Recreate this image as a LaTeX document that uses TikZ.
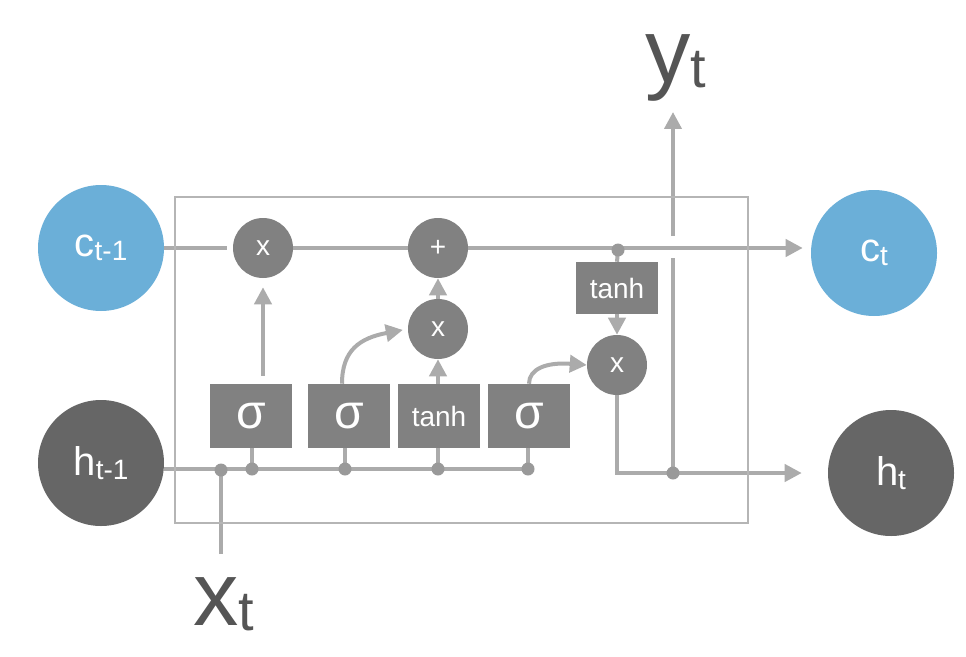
\documentclass[tikz,border=0pt]{standalone}
\usepackage{fontspec}
\setmainfont{Liberation Sans}
\usetikzlibrary{arrows.meta,backgrounds}

\newlength{\du}
\setlength{\du}{0.75pt}

\definecolor{statebluecolor}{rgb}{0.419608, 0.686275, 0.847059}
\definecolor{stategraycolor}{rgb}{0.400000, 0.400000, 0.400000}
\definecolor{gatecolor}{rgb}{0.505882, 0.505882, 0.505882}
\definecolor{wirecolor}{rgb}{0.670588, 0.670588, 0.670588}
\definecolor{jointcolor}{rgb}{0.600000, 0.600000, 0.600000}
\definecolor{cellcolor}{rgb}{0.709804, 0.709804, 0.709804}
\definecolor{labelcolor}{rgb}{0.333333, 0.333333, 0.333333}

\tikzset{
  wire/.style={draw=wirecolor, line width=4\du},
  wirearrow/.style={wire, -{Triangle[length=12.75pt,width=12.75pt]}},
  statecircle/.style={circle, minimum size=126\du, inner sep=0pt, text=white},
  gatecircle/.style={circle, fill=gatecolor, minimum size=60\du, inner sep=0pt,
    text=white, font=\fontsize{21}{21}\selectfont},
  gatebox/.style={rectangle, fill=gatecolor, minimum width=82\du, minimum height=64\du,
    inner sep=0pt, text=white},
  joint/.style={circle, fill=jointcolor, minimum size=13\du, inner sep=0pt},
  biglabel/.style={text=labelcolor, inner sep=0pt}
}

\newcommand{\statetext}[2]{{\fontsize{30}{30}\selectfont #1}{\fontsize{21}{21}\selectfont\raisebox{-3pt}{#2}}}
\newcommand{\iotext}[2]{{\fontsize{68}{68}\selectfont #1}{\fontsize{42}{42}\selectfont\raisebox{-4pt}{#2}}}

\begin{document}
\begin{tikzpicture}
\pgftransformxscale{1.000000}
\pgftransformyscale{-1.000000}
\useasboundingbox (0\du,0\du) rectangle (966\du,656\du);
% cell
\draw[draw=cellcolor, line width=2\du] (175\du,197\du) rectangle (748\du,523\du);
% states
\node[statecircle, fill=statebluecolor] (cprev) at (101\du,248\du) {\statetext{c}{t-1}};
\node[statecircle, fill=stategraycolor] (hprev) at (101\du,463\du) {\statetext{h}{t-1}};
\node[statecircle, fill=statebluecolor] (ct) at (874\du,253\du) {\statetext{c}{t}};
\node[statecircle, fill=stategraycolor] (ht) at (891\du,473\du) {\statetext{h}{t}};
% gates
\node[gatecircle] (m1) at (263\du,248\du) {x};
\node[gatecircle] (plus) at (438\du,248\du) {+};
\node[gatecircle] (m2) at (438\du,329\du) {x};
\node[gatecircle] (m3) at (617\du,365\du) {x};
\node[gatebox, font=\fontsize{36}{36}\selectfont] (s1) at (251\du,416\du) {σ};
\node[gatebox, font=\fontsize{36}{36}\selectfont] (s2) at (349\du,416\du) {σ};
\node[gatebox, font=\fontsize{21}{21}\selectfont] (t1) at (439\du,416\du) {tanh};
\node[gatebox, font=\fontsize{36}{36}\selectfont] (s3) at (529\du,416\du) {σ};
\node[gatebox, minimum height=52\du, font=\fontsize{21}{21}\selectfont] (t2) at (617\du,288\du) {tanh};
% labels
\node[biglabel] (yt) at (676\du,68\du) {\iotext{y}{t}};
\node[biglabel] (xt) at (224\du,604\du) {\iotext{x}{t}};
% joints
\node[joint] (dx) at (221\du,470\du) {};
\node[joint] (d1) at (252\du,469\du) {};
\node[joint] (d2) at (345\du,469\du) {};
\node[joint] (d3) at (438\du,469\du) {};
\node[joint] (d4) at (528\du,469\du) {};
\node[joint] (dc) at (618\du,250\du) {};
\node[joint] (dh) at (673\du,473\du) {};
\coordinate (xin) at (221\du,554\du);
\coordinate (hopbot) at (673\du,258\du);
\coordinate (hoptop) at (673\du,236\du);
\coordinate (ytip) at (673\du,112\du);
\begin{scope}[on background layer]
% cell state line
\draw[wire, shorten >=4.5pt] (cprev.east) -- (m1.west);
\draw[wire] (m1.east) -- (plus.west);
\draw[wirearrow, shorten >=6pt] (plus.east) -- (plus.east -| ct.west);
% hidden state line
\draw[wire] (hprev.east |- d4) -- (d4.center);
\draw[wire] (xin) -- (dx.center);
\draw[wire] (d1.center) -- (d1 |- s1.south);
\draw[wire] (d2.center) -- (d2 |- s2.south);
\draw[wire] (d3.center) -- (d3 |- t1.south);
\draw[wire] (d4.center) -- (d4 |- s3.south);
% gate arrows
\draw[wirearrow, shorten <=6pt, shorten >=6.75pt] (m1 |- s1.north) -- (m1.south);
\draw[wirearrow] (m2 |- t1.north) -- (m2.south);
\draw[wirearrow] (m2.north) -- (plus.south);
\draw[wirearrow, shorten >=3.75pt] ([xshift=-7\du]s2.north) .. controls (342\du,350\du) and (360\du,338\du) .. (m2.west);
\draw[wirearrow] (s3.north) .. controls (529\du,369\du) and (546\du,362\du) .. (m3.west);
\draw[wire] (dc.center) -- (t2.north);
\draw[wirearrow] (t2.south) -- (m3.north);
\draw[wirearrow, shorten >=19.5pt] (m3.south) |- (ht.west);
\draw[wire] (dh.center) -- (hopbot);
\draw[wirearrow] (hoptop) -- (ytip);
\end{scope}
\end{tikzpicture}
\end{document}
